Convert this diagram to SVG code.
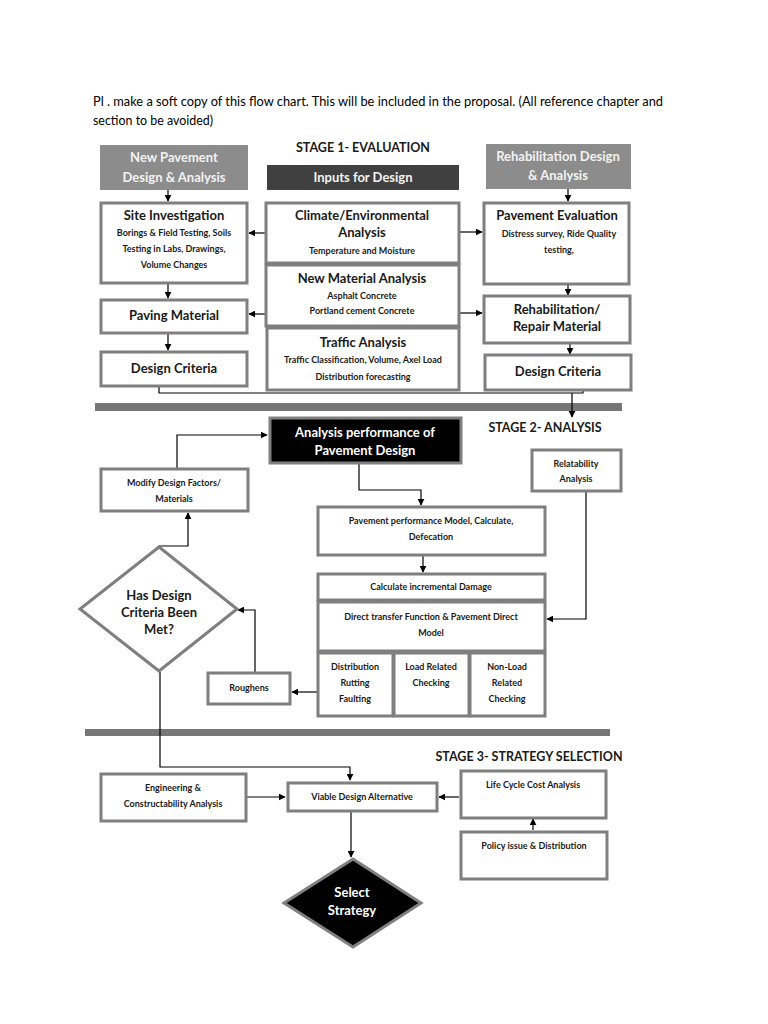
<svg xmlns="http://www.w3.org/2000/svg" width="768" height="1024" viewBox="0 0 768 1024">
<defs>
<marker id="ah" viewBox="0 0 10 10" refX="9" refY="5" markerWidth="7" markerHeight="7" orient="auto" markerUnits="userSpaceOnUse">
<path d="M0,0 L10,5 L0,10 z" fill="#000"/>
</marker>
<style>
text{font-family:Lato,"Open Sans","Liberation Sans",sans-serif;font-weight:bold;fill:#1a1a1a;text-anchor:middle;}
.box{fill:#fff;stroke:#7f7f7f;stroke-width:3;}
.hdr{fill:#8c8c8c;stroke:none;}
.dark{fill:#404040;stroke:none;}
.blk{fill:#000;stroke:#808080;stroke-width:3;}
.bar{fill:#767676;}
.t13{font-size:13px;}
.t9{font-size:9px;}
.t10{font-size:10px;}
.w{fill:#f2f2f2;}
.ww{fill:#fff;}
.con{fill:none;stroke:#000;stroke-width:1.2;}
.note{font-family:Lato,"Liberation Sans",sans-serif;font-weight:normal;font-size:13.5px;text-anchor:start;fill:#000;}
.stage{font-size:12.5px;}
</style>
</defs>
<rect width="768" height="1024" fill="#fff"/>

<text class="note" x="93" y="106" textLength="570" lengthAdjust="spacingAndGlyphs">Pl . make a soft copy of this flow chart. This will be included in the proposal. (All reference chapter and</text>
<text class="note" x="93" y="125" textLength="120" lengthAdjust="spacingAndGlyphs">section to be avoided)</text>

<text class="stage" x="363" y="152">STAGE 1- EVALUATION</text>
<text class="stage" x="545" y="432">STAGE 2- ANALYSIS</text>
<text class="stage" x="529" y="761">STAGE 3- STRATEGY SELECTION</text>

<rect class="bar" x="95" y="403" width="527" height="8"/>
<rect class="bar" x="85" y="729" width="525" height="7"/>

<g id="connectors">
<path class="con" d="M168,190 V201" marker-end="url(#ah)"/>
<path class="con" d="M168,284 V298" marker-end="url(#ah)"/>
<path class="con" d="M168,334 V350" marker-end="url(#ah)"/>
<path class="con" d="M265,233 H249" marker-end="url(#ah)"/>
<path class="con" d="M459,232 H482" marker-end="url(#ah)"/>
<path class="con" d="M265,314 H249" marker-end="url(#ah)"/>
<path class="con" d="M459,313 H482" marker-end="url(#ah)"/>
<path class="con" d="M568,189 V201" marker-end="url(#ah)"/>
<path class="con" d="M568,285 V295" marker-end="url(#ah)"/>
<path class="con" d="M570,344 V354" marker-end="url(#ah)"/>
<path class="con" d="M159,387 V393 H583 V391"/>
<path class="con" d="M572,393 V417" marker-end="url(#ah)"/>
<path class="con" d="M177,468 V435 H267" marker-end="url(#ah)"/>
<path class="con" d="M359,464 V490 H421 V505" marker-end="url(#ah)"/>
<path class="con" d="M159,546 H188 V513" marker-end="url(#ah)"/>
<path class="con" d="M317,692 H292" marker-end="url(#ah)"/>
<path class="con" d="M255,672 V610 H238" marker-end="url(#ah)"/>
<path class="con" d="M586,491 V619 H547" marker-end="url(#ah)"/>
<path class="con" d="M423,556 V572" marker-end="url(#ah)"/>
<path class="con" d="M160,672 V767 H350 V780" marker-end="url(#ah)"/>
<path class="con" d="M247,797 H285" marker-end="url(#ah)"/>
<path class="con" d="M459,797 H439" marker-end="url(#ah)"/>
<path class="con" d="M533,830 V819" marker-end="url(#ah)"/>
<path class="con" d="M351,812 V857" marker-end="url(#ah)"/>
</g>

<g id="new-pavement">
<rect class="hdr" x="100" y="145" width="148" height="45"/>
<text class="t13 w" x="174" y="162">New Pavement</text>
<text class="t13 w" x="174" y="182">Design &amp; Analysis</text>
</g>
<g id="inputs">
<rect class="dark" x="267" y="165" width="192" height="25"/>
<text class="t13 w" x="363" y="182">Inputs for Design</text>
</g>
<g id="rehab-design">
<rect class="hdr" x="486" y="144" width="145" height="45"/>
<text class="t13 w" x="558" y="161">Rehabilitation Design</text>
<text class="t13 w" x="558" y="180">&amp; Analysis</text>
</g>

<g id="site">
<rect class="box" x="101" y="203" width="146" height="80"/>
<text class="t13" x="174" y="220">Site Investigation</text>
<text class="t9" x="174" y="236">Borings &amp; Field Testing, Soils</text>
<text class="t9" x="174" y="252">Testing in Labs, Drawings,</text>
<text class="t9" x="174" y="268">Volume Changes</text>
</g>
<g id="climate">
<rect class="box" x="266" y="203" width="193" height="60"/>
<text class="t13" x="362" y="220">Climate/Environmental</text>
<text class="t13" x="362" y="237">Analysis</text>
<text class="t9" x="362" y="254">Temperature and Moisture</text>
</g>
<g id="material">
<rect class="box" x="266" y="265" width="193" height="61"/>
<text class="t13" x="362" y="283">New Material Analysis</text>
<text class="t9" x="362" y="299">Asphalt Concrete</text>
<text class="t9" x="362" y="314">Portland cement Concrete</text>
</g>
<g id="traffic">
<rect class="box" x="267" y="328" width="192" height="62"/>
<text class="t13" x="363" y="347">Traffic Analysis</text>
<text class="t9" x="363" y="363">Traffic Classification, Volume, Axel Load</text>
<text class="t9" x="363" y="380">Distribution forecasting</text>
</g>
<g id="pav-eval">
<rect class="box" x="484" y="203" width="145" height="81"/>
<text class="t13" x="557" y="220">Pavement Evaluation</text>
<text class="t9" x="559" y="237">Distress survey, Ride Quality</text>
<text class="t9" x="559" y="253">testing,</text>
</g>
<g id="paving">
<rect class="box" x="101" y="300" width="146" height="33"/>
<text class="t13" x="174" y="320">Paving Material</text>
</g>
<g id="rehab-material">
<rect class="box" x="484" y="296" width="146" height="47"/>
<text class="t13" x="557" y="314">Rehabilitation/</text>
<text class="t13" x="557" y="331">Repair Material</text>
</g>
<g id="criteria-left">
<rect class="box" x="101" y="352" width="146" height="34"/>
<text class="t13" x="174" y="373">Design Criteria</text>
</g>
<g id="criteria-right">
<rect class="box" x="485" y="355" width="146" height="35"/>
<text class="t13" x="558" y="376">Design Criteria</text>
</g>

<g id="analysis-perf">
<rect class="blk" x="270" y="418" width="191" height="45"/>
<text class="t13 ww" x="365" y="437">Analysis performance of</text>
<text class="t13 ww" x="365" y="455">Pavement Design</text>
</g>
<g id="modify">
<rect class="box" x="101" y="469" width="147" height="42"/>
<text class="t9" x="174" y="486">Modify Design Factors/</text>
<text class="t9" x="174" y="502">Materials</text>
</g>
<g id="relatability">
<rect class="box" x="532" y="450" width="89" height="41"/>
<text class="t9" x="576" y="467">Relatability</text>
<text class="t9" x="576" y="482">Analysis</text>
</g>
<g id="perf-model">
<rect class="box" x="318" y="507" width="227" height="48"/>
<text class="t9" x="431" y="524">Pavement performance Model, Calculate,</text>
<text class="t9" x="431" y="540">Defecation</text>
</g>
<g id="incremental">
<rect class="box" x="318" y="574" width="227" height="26"/>
<text class="t9" x="431" y="590">Calculate incremental Damage</text>
</g>
<g id="transfer">
<rect class="box" x="318" y="602" width="227" height="49"/>
<text class="t9" x="431" y="620">Direct transfer Function &amp; Pavement Direct</text>
<text class="t9" x="431" y="636">Model</text>
</g>
<g id="distribution">
<rect class="box" x="318" y="653" width="75" height="63"/>
<text class="t9" x="355" y="670">Distribution</text>
<text class="t9" x="355" y="686">Rutting</text>
<text class="t9" x="355" y="702">Faulting</text>
</g>
<g id="load">
<rect class="box" x="394" y="653" width="75" height="63"/>
<text class="t9" x="431" y="670">Load Related</text>
<text class="t9" x="431" y="686">Checking</text>
</g>
<g id="nonload">
<rect class="box" x="470" y="653" width="75" height="63"/>
<text class="t9" x="507" y="670">Non-Load</text>
<text class="t9" x="507" y="686">Related</text>
<text class="t9" x="507" y="702">Checking</text>
</g>
<g id="decision">
<polygon class="box" points="159,547 237,609 159,671 80,609"/>
<text class="t13" x="159" y="600">Has Design</text>
<text class="t13" x="159" y="617">Criteria Been</text>
<text class="t13" x="159" y="634">Met?</text>
</g>
<g id="roughens">
<rect class="box" x="208" y="673" width="82" height="31"/>
<text class="t9" x="249" y="691">Roughens</text>
</g>

<g id="engineering">
<rect class="box" x="101" y="774" width="145" height="47"/>
<text class="t9" x="173" y="791">Engineering &amp;</text>
<text class="t9" x="173" y="807">Constructability Analysis</text>
</g>
<g id="viable">
<rect class="box" x="288" y="783" width="149" height="28"/>
<text class="t9" x="362" y="800">Viable Design Alternative</text>
</g>
<g id="lifecycle">
<rect class="box" x="461" y="771" width="145" height="47"/>
<text class="t9" x="533" y="788">Life Cycle Cost Analysis</text>
</g>
<g id="policy">
<rect class="box" x="461" y="832" width="146" height="47"/>
<text class="t9" x="534" y="849">Policy issue &amp; Distribution</text>
</g>
<g id="select">
<polygon class="blk" points="353,859 421,903 353,947 284,903"/>
<text class="t13 ww" x="352" y="897">Select</text>
<text class="t13 ww" x="352" y="915">Strategy</text>
</g>
</svg>
